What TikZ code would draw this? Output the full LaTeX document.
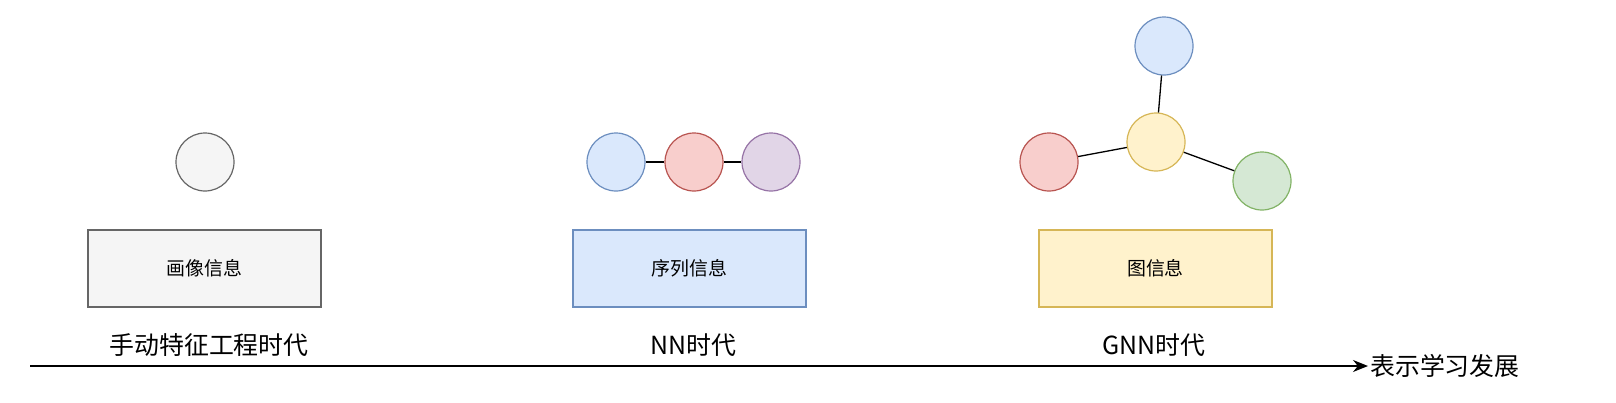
\documentclass[tikz,border=0pt]{standalone}
\usepackage{fontspec}
\setmainfont{Noto Sans CJK SC}
\usetikzlibrary{arrows.meta}
\definecolor{gf}{HTML}{F5F5F5}\definecolor{gs}{HTML}{666666}
\definecolor{bf}{HTML}{DAE8FC}\definecolor{bs}{HTML}{6C8EBF}
\definecolor{rf}{HTML}{F8CECC}\definecolor{rs}{HTML}{B85450}
\definecolor{pf}{HTML}{E1D5E7}\definecolor{ps}{HTML}{9673A6}
\definecolor{yf}{HTML}{FFF2CC}\definecolor{ys}{HTML}{D6B656}
\definecolor{ef}{HTML}{D5E8D4}\definecolor{es}{HTML}{82B366}
\begin{document}
\begin{tikzpicture}[x=1bp,y=-1bp,
  dot/.style={circle,minimum size=58bp,inner sep=0pt,line width=1.2bp},
  box/.style={minimum width=233bp,minimum height=77bp,inner sep=0pt,line width=1.2bp,font=\fontsize{19}{21}\selectfont},
  era/.style={font=\fontsize{25}{28}\selectfont},
  link/.style={line width=1.3bp}]
\useasboundingbox (0,0) rectangle (1616,402);
\node[dot,fill=gf,draw=gs] (g) at (205,162) {};
\node[box,fill=gf,draw=gs] (b1) at (204.5,268.5) {画像信息};
\node[era] (t1) at (209,345) {手动特征工程时代};
\node[dot,fill=bf,draw=bs] (s1) at (616,162) {};
\node[dot,fill=rf,draw=rs] (s2) at (694,162) {};
\node[dot,fill=pf,draw=ps] (s3) at (771,162) {};
\draw[link] (s1)--(s2); \draw[link] (s2)--(s3);
\node[box,fill=bf,draw=bs] (b2) at (689.5,268.5) {序列信息};
\node[era] (t2) at (693,345) {NN时代};
\node[dot,fill=bf,draw=bs] (n1) at (1164,46) {};
\node[dot,fill=yf,draw=ys] (n2) at (1156,142) {};
\node[dot,fill=rf,draw=rs] (n3) at (1049,162) {};
\node[dot,fill=ef,draw=es] (n4) at (1262,181) {};
\draw[link] (n2)--(n1); \draw[link] (n2)--(n3); \draw[link] (n2)--(n4);
\node[box,fill=yf,draw=ys] (b3) at (1155.5,268.5) {图信息};
\node[era] (t3) at (1154,345) {GNN时代};
\coordinate (a0) at (30,366);
\node[era,anchor=west,inner sep=2pt] (lab) at (1368,366) {表示学习发展};
\draw[line width=1.5bp,-{Stealth[length=15bp,width=12bp]}] (a0)--(lab.west);
\end{tikzpicture}
\end{document}
